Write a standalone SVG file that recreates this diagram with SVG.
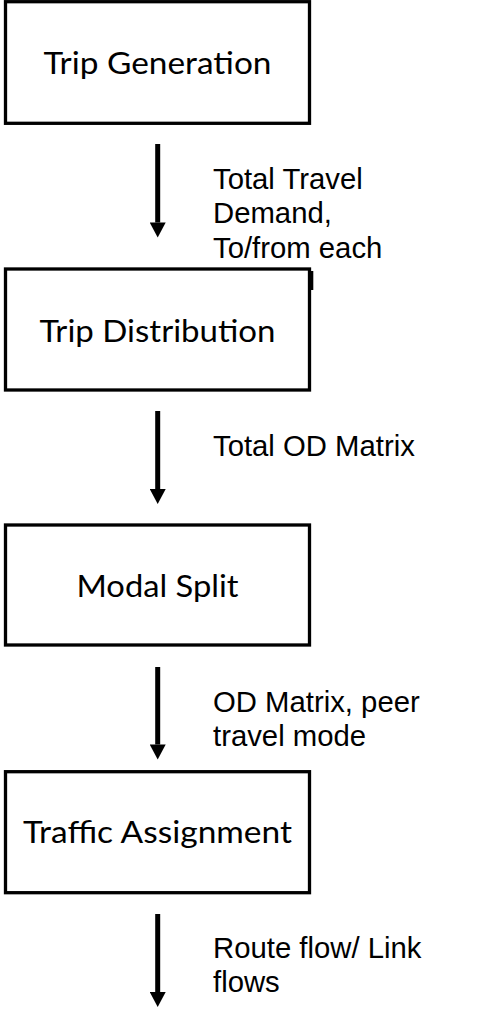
<svg xmlns="http://www.w3.org/2000/svg" width="487" height="1024" viewBox="0 0 487 1024">
<style>
.box{fill:#ffffff;stroke:#000000;stroke-width:3.3}
.title{font-family:Lato,"Open Sans","Liberation Sans",sans-serif;font-size:31px;fill:#000000;text-anchor:middle}
.lbl{font-family:"Liberation Sans",Arial,sans-serif;font-size:29.3px;fill:#000000}
.conn{stroke:#000000;stroke-width:5;fill:none}
</style>
<defs>
<marker id="ah" markerUnits="userSpaceOnUse" markerWidth="16" markerHeight="16" refX="0" refY="8" orient="auto" viewBox="0 0 15 16">
<path d="M0,0 L15,8 L0,16 Z" fill="#000000"/>
</marker>
</defs>
<rect width="487" height="1024" fill="#ffffff"/>
<g id="node-trip-generation">
<rect class="box" x="5.5" y="1.7" width="304" height="121.6"/>
<text class="title" x="157.5" y="74" textLength="228" lengthAdjust="spacingAndGlyphs">Trip Generation</text>
</g>
<g id="node-trip-distribution">
<rect class="box" x="5.5" y="269" width="304" height="121"/>
<rect x="310" y="271" width="3.3" height="19" fill="#000000"/>
<text class="title" x="157.5" y="342" textLength="236" lengthAdjust="spacingAndGlyphs">Trip Distribution</text>
</g>
<g id="node-modal-split">
<rect class="box" x="5.5" y="525" width="304" height="120"/>
<text class="title" x="157.5" y="597" textLength="162" lengthAdjust="spacingAndGlyphs">Modal Split</text>
</g>
<g id="node-traffic-assignment">
<rect class="box" x="5.5" y="771.7" width="304" height="121"/>
<text class="title" x="157.5" y="843" textLength="269" lengthAdjust="spacingAndGlyphs">Traffic Assignment</text>
</g>
<g id="connectors">
<line class="conn" x1="157.7" y1="144" x2="157.7" y2="222.5" marker-end="url(#ah)"/>
<line class="conn" x1="157.7" y1="411" x2="157.7" y2="489" marker-end="url(#ah)"/>
<line class="conn" x1="157.7" y1="667" x2="157.7" y2="744.5" marker-end="url(#ah)"/>
<line class="conn" x1="157.7" y1="914" x2="157.7" y2="992" marker-end="url(#ah)"/>
</g>
<g id="labels">
<text class="lbl" x="213" y="189">Total Travel</text>
<text class="lbl" x="213" y="223">Demand,</text>
<text class="lbl" x="213" y="257.5">To/from each</text>
<text class="lbl" x="213" y="456">Total OD Matrix</text>
<text class="lbl" x="213" y="712">OD Matrix, peer</text>
<text class="lbl" x="213" y="746">travel mode</text>
<text class="lbl" x="213" y="958">Route flow/ Link</text>
<text class="lbl" x="213" y="992">flows</text>
</g>
</svg>
